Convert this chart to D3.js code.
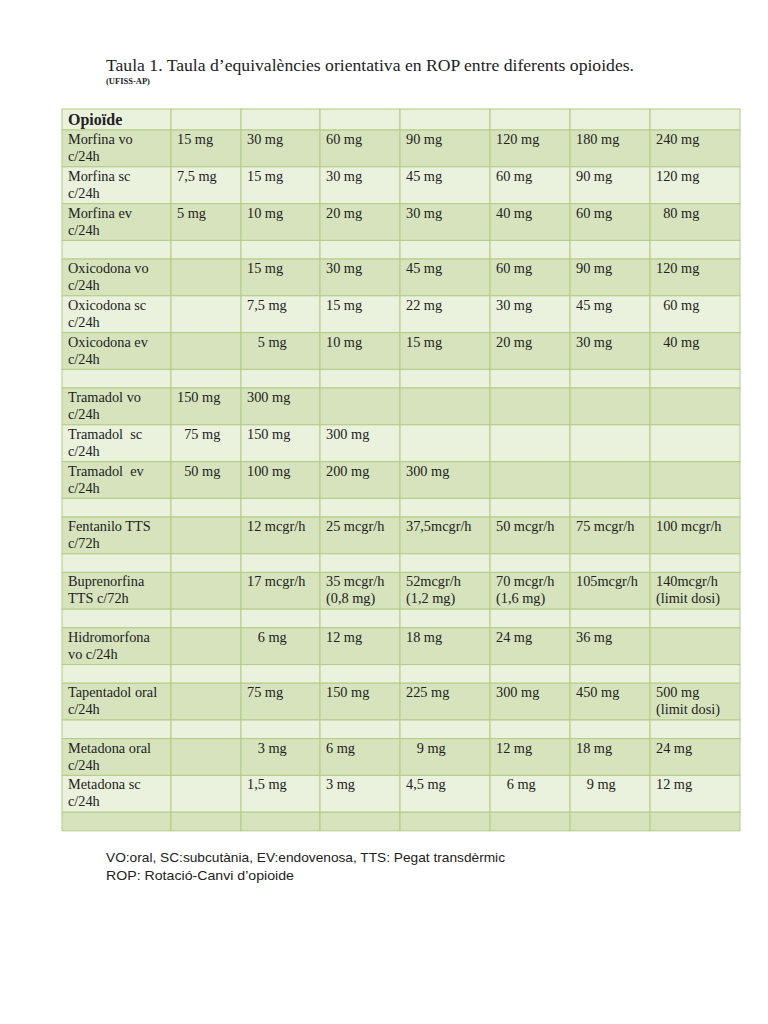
<!DOCTYPE html><html><head><meta charset="utf-8"><script src="https://cdn.jsdelivr.net/npm/d3@7"></script>
<style>body{margin:0;background:#fff}text{white-space:pre}</style></head><body><svg id="c" width="768" height="1024"></svg><script>
const colEdges=[62,171,241,320,400,490,570,650,740];
const rowKinds=["h","f","f","f","b","f","f","f","b","f","f","f","b","f","b","f","b","f","b","f","b","f","f","b"];
const names=[["Opioïde"],["Morfina vo","c/24h"],["Morfina sc","c/24h"],["Morfina ev","c/24h"],[],["Oxicodona vo","c/24h"],["Oxicodona sc","c/24h"],["Oxicodona ev","c/24h"],[],["Tramadol vo","c/24h"],["Tramadol  sc","c/24h"],["Tramadol  ev","c/24h"],[],["Fentanilo TTS","c/72h"],[],["Buprenorfina","TTS c/72h"],[],["Hidromorfona","vo c/24h"],[],["Tapentadol oral","c/24h"],[],["Metadona oral","c/24h"],["Metadona sc","c/24h"],[]];
const values=[[],
["15 mg","30 mg","60 mg","90 mg","120 mg","180 mg","240 mg"],
["7,5 mg","15 mg","30 mg","45 mg","60 mg","90 mg","120 mg"],
["5 mg","10 mg","20 mg","30 mg","40 mg","60 mg","  80 mg"],[],
["","15 mg","30 mg","45 mg","60 mg","90 mg","120 mg"],
["","7,5 mg","15 mg","22 mg","30 mg","45 mg","  60 mg"],
["","   5 mg","10 mg","15 mg","20 mg","30 mg","  40 mg"],[],
["150 mg","300 mg"],
["  75 mg","150 mg","300 mg"],
["  50 mg","100 mg","200 mg","300 mg"],[],
["","12 mcgr/h","25 mcgr/h","37,5mcgr/h","50 mcgr/h","75 mcgr/h","100 mcgr/h"],[],
["","17 mcgr/h","35 mcgr/h|(0,8 mg)","52mcgr/h|(1,2 mg)","70 mcgr/h|(1,6 mg)","105mcgr/h","140mcgr/h|(limit dosi)"],[],
["","   6 mg","12 mg","18 mg","24 mg","36 mg"],[],
["","75 mg","150 mg","225 mg","300 mg","450 mg","500 mg|(limit dosi)"],[],
["","   3 mg","6 mg","   9 mg","12 mg","18 mg","24 mg"],
["","1,5 mg","3 mg","4,5 mg","   6 mg","   9 mg","12 mg"],[]];
const rowH={h:21,f:36.8,b:18.6};
const svg=d3.select("#c");
let ys=[109];rowKinds.forEach(k=>ys.push(ys[ys.length-1]+rowH[k]));
const F="'Liberation Serif','Times New Roman',serif";
svg.append("text").attr("x",106).attr("y",71).attr("font-family",F).attr("font-size",17).attr("textLength",528).attr("lengthAdjust","spacingAndGlyphs").attr("fill","#222").text("Taula 1. Taula d’equivalències orientativa en ROP entre diferents opioides.");
svg.append("text").attr("x",106).attr("y",84).attr("font-family",F).attr("font-size",8.5).attr("font-weight","bold").attr("fill","#222").text("(UFISS-AP)");
rowKinds.forEach((k,i)=>{
  const y0=ys[i];
  for(let c=0;c<8;c++){
    svg.append("rect").attr("x",colEdges[c]).attr("y",y0).attr("width",colEdges[c+1]-colEdges[c]).attr("height",rowH[k])
      .attr("fill",i%2?"#d6e3bc":"#eaf1dd").attr("stroke","#b4cc86").attr("stroke-width",1);
  }
  (names[i]||[]).forEach((t,j)=>svg.append("text").attr("x",colEdges[0]+6).attr("y",y0+(k=="h"?16:14)+j*17)
     .attr("font-family",F).attr("font-size",k=="h"?16:14.3).attr("font-weight",k=="h"?"bold":"normal").attr("fill","#222").text(t));
  (values[i]||[]).forEach((v,c)=>v.split("|").forEach((t,j)=>svg.append("text").attr("x",colEdges[c+1]+6).attr("y",y0+14+j*17)
     .attr("font-family",F).attr("font-size",14.3).attr("fill","#222").text(t)));
});
const S="'Liberation Sans Narrow','Liberation Sans',Arial,sans-serif";
svg.append("text").attr("x",106).attr("y",862).attr("font-family",S).attr("font-size",13.5).attr("textLength",399).attr("lengthAdjust","spacingAndGlyphs").attr("fill","#222").text("VO:oral, SC:subcutània, EV:endovenosa, TTS: Pegat transdèrmic");
svg.append("text").attr("x",106).attr("y",880).attr("font-family",S).attr("font-size",13.5).attr("textLength",188).attr("lengthAdjust","spacingAndGlyphs").attr("fill","#222").text("ROP: Rotació-Canvi d’opioide");
</script></body></html>
